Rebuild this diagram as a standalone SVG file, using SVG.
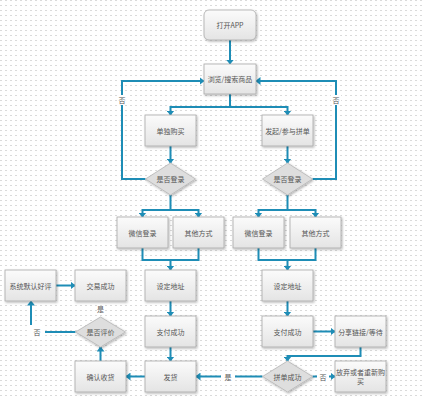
<svg xmlns="http://www.w3.org/2000/svg" width="425" height="400" viewBox="0 0 425 400">
<defs>
<pattern id="grid" x="0.5" y="0" width="5" height="5" patternUnits="userSpaceOnUse">
<rect x="0" y="0" width="1" height="1" fill="#b4b4b4"/>
</pattern>
<linearGradient id="boxg" x1="0" y1="0" x2="0" y2="1">
<stop offset="0" stop-color="#fbfbfb"/>
<stop offset="1" stop-color="#e4e4e4"/>
</linearGradient>
<filter id="sh" x="-20%" y="-20%" width="150%" height="150%">
<feDropShadow dx="1" dy="1.2" stdDeviation="0.9" flood-color="#000" flood-opacity="0.3"/>
</filter>
<marker id="ah" viewBox="0 0 5 8" refX="4.5" refY="4" markerWidth="5" markerHeight="8" markerUnits="userSpaceOnUse" orient="auto">
<path d="M0,0 L5,4 L0,8 z" fill="#1e8db6"/>
</marker>
</defs>
<style>
.box{fill:url(#boxg);stroke:#a9a9a9;stroke-width:0.8;filter:url(#sh)}
.dia{fill:#dedede;stroke:#b5b5b5;stroke-width:0.8;filter:url(#sh)}
.t{font-family:"Noto Sans CJK SC","Liberation Sans",sans-serif;font-size:7px;fill:#555;text-anchor:middle;dominant-baseline:central}
.c{fill:none;stroke:#1e8db6;stroke-width:2;marker-end:url(#ah)}
.cn{fill:none;stroke:#1e8db6;stroke-width:2}
.lb{fill:#fff}
</style>
<rect width="425" height="400" fill="#fff"/>
<rect width="425" height="400" fill="url(#grid)"/>

<g id="connectors">
<path class="c" d="M230,40 V64"/>
<path class="c" d="M230,94 V107 H170.5 V115"/>
<path class="c" d="M230,94 V107 H287.5 V115"/>
<path class="c" d="M170.5,146 V163"/>
<path class="c" d="M287.5,146 V163"/>
<path class="c" d="M145.5,179 H122 V81 H204"/>
<path class="c" d="M312.5,179 H336 V81 H256"/>
<path class="c" d="M170.5,195 V210 H142.5 V217"/>
<path class="c" d="M170.5,210 H198.5 V217"/>
<path class="c" d="M287.5,195 V210 H258.5 V217"/>
<path class="c" d="M287.5,210 H315.5 V217"/>
<path class="c" d="M142.5,248 V260 H170.5 V270"/>
<path class="cn" d="M198.5,248 V260 H170.5"/>
<path class="c" d="M258.5,248 V260 H287.5 V270"/>
<path class="cn" d="M315.5,248 V260 H287.5"/>
<path class="c" d="M170.5,301 V316"/>
<path class="c" d="M170.5,347 V361"/>
<path class="c" d="M287.5,301 V316"/>
<path class="c" d="M313,331.5 H335"/>
<path class="c" d="M360.5,347 V356 H287.5 V361"/>
<path class="c" d="M312.5,376.5 H335"/>
<path class="c" d="M262.5,376.5 H196"/>
<path class="c" d="M145,376.5 H126"/>
<path class="c" d="M100.5,361 V347"/>
<path class="c" d="M75.5,332 H31 V301"/>
<path class="c" d="M56,285.5 H75"/>
<rect class="lb" x="117" y="95" width="10" height="10"/>
<text class="t" x="122" y="100">否</text>
<rect class="lb" x="331" y="95" width="10" height="10"/>
<text class="t" x="336" y="100">否</text>
<rect class="lb" x="317" y="371.5" width="12" height="10"/>
<text class="t" x="323" y="376.5">否</text>
<rect class="lb" x="221" y="371.5" width="14" height="10"/>
<text class="t" x="228" y="376.5">是</text>
<text class="t" x="100.5" y="309">是</text>
<rect class="lb" x="27" y="325" width="18" height="14"/>
<text class="t" x="37" y="332">否</text>
</g>

<g id="n-open"><rect class="box" x="204" y="10" width="52" height="30" rx="5"/><text class="t" x="230" y="25">打开APP</text></g>
<g id="n-browse"><rect class="box" x="204" y="64" width="52" height="30"/><text class="t" x="230" y="79">浏览/搜索商品</text></g>
<g id="n-single"><rect class="box" x="145" y="115" width="51" height="31"/><text class="t" x="170.5" y="130.5">单独购买</text></g>
<g id="n-group"><rect class="box" x="262" y="115" width="51" height="31"/><text class="t" x="287.5" y="130.5">发起/参与拼单</text></g>
<g id="n-loginL"><polygon class="dia" points="170.5,163 195.5,179 170.5,195 145.5,179"/><text class="t" x="170.5" y="179">是否登录</text></g>
<g id="n-loginR"><polygon class="dia" points="287.5,163 312.5,179 287.5,195 262.5,179"/><text class="t" x="287.5" y="179">是否登录</text></g>
<g id="n-wxL"><rect class="box" x="117" y="217" width="51" height="31"/><text class="t" x="142.5" y="232.5">微信登录</text></g>
<g id="n-otherL"><rect class="box" x="173" y="217" width="51" height="31"/><text class="t" x="198.5" y="232.5">其他方式</text></g>
<g id="n-wxR"><rect class="box" x="233" y="217" width="51" height="31"/><text class="t" x="258.5" y="232.5">微信登录</text></g>
<g id="n-otherR"><rect class="box" x="290" y="217" width="51" height="31"/><text class="t" x="315.5" y="232.5">其他方式</text></g>
<g id="n-addrL"><rect class="box" x="145" y="270" width="51" height="31"/><text class="t" x="170.5" y="285.5">设定地址</text></g>
<g id="n-addrR"><rect class="box" x="262" y="270" width="51" height="31"/><text class="t" x="287.5" y="285.5">设定地址</text></g>
<g id="n-payL"><rect class="box" x="145" y="316" width="51" height="31"/><text class="t" x="170.5" y="331.5">支付成功</text></g>
<g id="n-payR"><rect class="box" x="262" y="316" width="51" height="31"/><text class="t" x="287.5" y="331.5">支付成功</text></g>
<g id="n-share"><rect class="box" x="335" y="316" width="51" height="31"/><text class="t" x="360.5" y="331.5">分享链接/等待</text></g>
<g id="n-pin"><polygon class="dia" points="287.5,361 312.5,376.5 287.5,392 262.5,376.5"/><text class="t" x="287.5" y="376.5">拼单成功</text></g>
<g id="n-giveup"><rect class="box" x="335" y="361" width="51" height="31"/><text class="t" x="360.5" y="372">放弃或者重新购</text><text class="t" x="360.5" y="381">买</text></g>
<g id="n-ship"><rect class="box" x="145" y="361" width="51" height="31"/><text class="t" x="170.5" y="376.5">发货</text></g>
<g id="n-confirm"><rect class="box" x="75" y="361" width="51" height="31"/><text class="t" x="100.5" y="376.5">确认收货</text></g>
<g id="n-eval"><polygon class="dia" points="100.5,317 125.5,332 100.5,347 75.5,332"/><text class="t" x="100.5" y="332">是否评价</text></g>
<g id="n-done"><rect class="box" x="75" y="270" width="51" height="31"/><text class="t" x="100.5" y="285.5">交易成功</text></g>
<g id="n-default"><rect class="box" x="5" y="270" width="51" height="31"/><text class="t" x="30.5" y="285.5">系统默认好评</text></g>
</svg>
